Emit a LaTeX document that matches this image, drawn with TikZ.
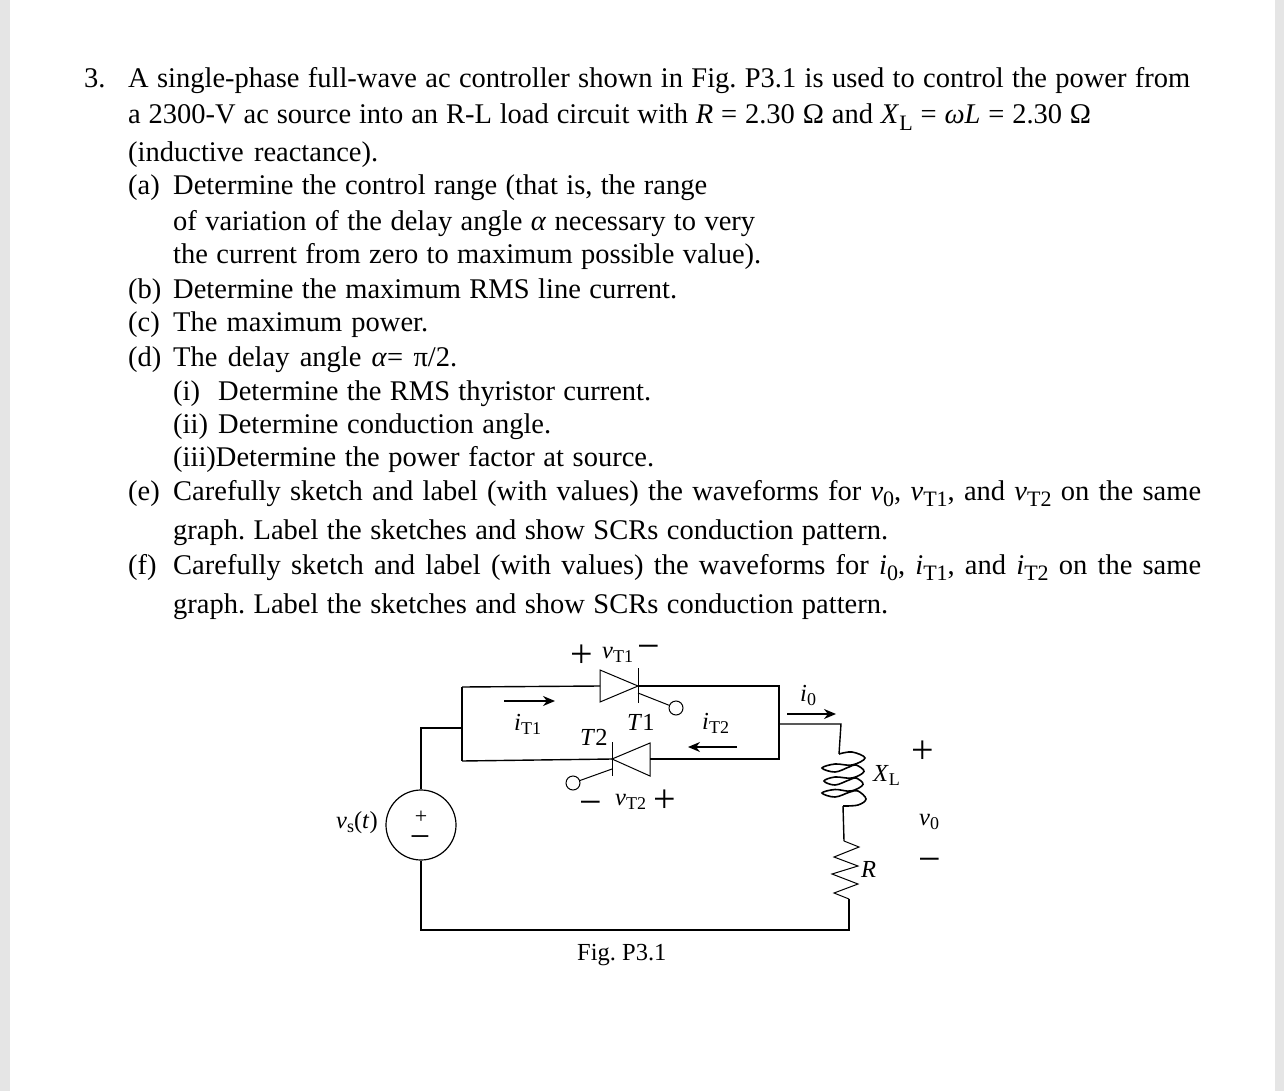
\documentclass[tikz,border=0pt]{standalone}
\usepackage{fontspec}
\setmainfont{Liberation Serif}
\usetikzlibrary{arrows.meta}
\definecolor{edgegray}{rgb}{0.9,0.9,0.9}
\frenchspacing
\newcommand{\sbm}[1]{\raisebox{-.22em}{\fontsize{22}{22}\selectfont #1}}
\newcommand{\sbf}[1]{\raisebox{-.2em}{\fontsize{18}{18}\selectfont #1}}
\newcommand{\fitline}[2]{\makebox[#1pt][s]{#2}}
\tikzset{
  txt/.style={anchor=base west,inner sep=0pt,font=\fontsize{28.5}{30}\selectfont},
  lab/.style={anchor=base west,inner sep=0pt,font=\fontsize{24.5}{26}\selectfont},
  sym/.style={inner sep=0pt,font=\fontsize{40}{40}\selectfont},
  wire/.style={line width=1.4pt},
  thin wire/.style={line width=1pt},
  flow/.style={->,>={Stealth[length=12pt,width=10pt]},line width=1.4pt},
  gatepin/.style={circle,draw,line width=1pt,minimum size=14pt,inner sep=0pt}
}
\begin{document}
\begin{tikzpicture}[x=1pt,y=-1pt]
  \useasboundingbox (0,0) rectangle (1284,1091);
  \fill[edgegray] (0,0) rectangle (10,1091);
  \fill[edgegray] (1275,0) rectangle (1284,1091);

  % problem text
  \node[txt] (num) at (84,88) {3.};
  \node[txt] (l1) at (128,88) {\fitline{1062}{A single-phase full-wave ac controller shown in Fig. P3.1 is used to control the power from}};
  \node[txt] (l2) at (128,124) {\fitline{963}{a 2300-V ac source into an R-L load circuit with \textit{R} = 2.30 Ω and \textit{X}\sbm{L} = \textit{ω}\textit{L} = 2.30 Ω}};
  \node[txt] (l3) at (128,162) {\fitline{250}{(inductive reactance).}};
  \node[txt] (pa) at (128,195) {(a)};
  \node[txt] (a1) at (173,195) {\fitline{534}{Determine the control range (that is, the range}};
  \node[txt] (a2) at (173,231) {\fitline{582}{of variation of the delay angle \textit{α} necessary to very}};
  \node[txt] (a3) at (173,264) {\fitline{588}{the current from zero to maximum possible value).}};
  \node[txt] (pb) at (128,298) {(b)};
  \node[txt] (b1) at (173,298) {\fitline{504}{Determine the maximum RMS line current.}};
  \node[txt] (pc) at (128,331) {(c)};
  \node[txt] (c1) at (173,331) {\fitline{255}{The maximum power.}};
  \node[txt] (pd) at (128,366) {(d)};
  \node[txt] (d1) at (173,366) {\fitline{284}{The delay angle \textit{α}= π/2.}};
  \node[txt] (pi) at (173,400) {(i)};
  \node[txt] (d2) at (218,400) {\fitline{433}{Determine the RMS thyristor current.}};
  \node[txt] (pii) at (173,433) {(ii)};
  \node[txt] (d3) at (218,433) {\fitline{333}{Determine conduction angle.}};
  \node[txt] (d4) at (173,466) {\fitline{481}{(iii)Determine the power factor at source.}};
  \node[txt] (pe) at (128,500) {(e)};
  \node[txt] (e1) at (173,500) {\fitline{1028}{Carefully sketch and label (with values) the waveforms for \textit{v}\sbm{0}, \textit{v}\sbm{T1}, and \textit{v}\sbm{T2} on the same}};
  \node[txt] (e2) at (173,539) {\fitline{715}{graph. Label the sketches and show SCRs conduction pattern.}};
  \node[txt] (pf) at (128,574) {(f)};
  \node[txt] (f1) at (173,574) {\fitline{1028}{Carefully sketch and label (with values) the waveforms for \textit{i}\sbm{0}, \textit{i}\sbm{T1}, and \textit{i}\sbm{T2} on the same}};
  \node[txt] (f2) at (173,613) {\fitline{715}{graph. Label the sketches and show SCRs conduction pattern.}};

  % circuit points
  \coordinate (topl) at (462,687);
  \coordinate (topr) at (779,686);
  \coordinate (botl) at (462,761);
  \coordinate (botr) at (779,759);
  \coordinate (midl) at (462,728);
  \coordinate (midr) at (779,724);
  \coordinate (t1a) at (600,686);
  \coordinate (t1k) at (638,686);
  \coordinate (t2k) at (612,759);
  \coordinate (t2a) at (650,759);
  \coordinate (corner) at (421,728);
  \coordinate (cornerb) at (421,930);
  \coordinate (coilin) at (841,724);
  \coordinate (coiltop) at (839,754);
  \coordinate (coilend) at (843,806);
  \coordinate (restop) at (844,841);
  \coordinate (resend) at (849,899);
  \coordinate (loadb) at (849,930);
  \coordinate (it1s) at (504,701);
  \coordinate (it1e) at (555,701);
  \coordinate (it2s) at (737,747);
  \coordinate (it2e) at (688,747);
  \coordinate (ios) at (787,714);
  \coordinate (ioe) at (836,714);

  \node[circle,draw,line width=1.2pt,minimum size=70pt,inner sep=0pt] (src) at (421,825) {};
  \node[inner sep=0pt,font=\fontsize{22}{22}\selectfont] (srcp) at (421,817) {+};
  \node[inner sep=0pt,text height=3pt,text depth=0pt,font=\fontsize{36}{36}\selectfont] (srcm) at (420,846.5) {−};
  \node[gatepin] (g1) at (676,708) {};
  \node[gatepin] (g2) at (573,783) {};

  % wires
  \draw[wire] (midl) -- (corner) -- (src.north);
  \draw[wire] (src.south) -- (cornerb) -- (loadb) -- (resend);
  \draw[wire] (topl) -- (botl);
  \draw[wire] (topl) -- (t1a);
  \draw[wire] (t1k) -- (topr) -- (botr) -- (t2a);
  \draw[wire] (botl) -- (t2k);
  \draw[wire] (midr) -- (coilin) -- (coiltop);
  \draw[wire] (coilend) -- (restop);

  % thyristors
  \draw[thin wire] (t1a) -- (600,670) -- (t1k) -- (600,702) -- cycle;
  \draw[thin wire] (638,668) -- (638,703);
  \draw[thin wire] (638,693) -- (g1);
  \draw[thin wire] (t2a) -- (650,743) -- (t2k) -- (650,776) -- cycle;
  \draw[thin wire] (612,742) -- (612,776);
  \draw[thin wire] (612,769) -- (g2);

  % coil and resistor
  \draw[line width=1.6pt] plot[smooth,tension=0.6] coordinates {
    (coiltop) (852,752) (865,758) (852,765) (835,764) (822,768) (835,772) (849,767)
    (856,765) (864,771.5) (852,778) (835,777) (824,781) (835,785) (849,780)
    (856,778) (863,784.5) (851,791) (835,789.5) (822,793) (835,797) (850,792)
    (858,791) (866,799) (858,805) (coilend)};
  \draw[thin wire] (restop) -- (859,847) -- (834,857) -- (858,866) -- (832,874)
    -- (858,884) -- (834,893) -- (resend);

  % current arrows
  \draw[flow] (it1s) -- (it1e);
  \draw[flow] (it2s) -- (it2e);
  \draw[flow] (ios) -- (ioe);

  % labels
  \node[sym] (vt1p) at (582,656) {+};
  \node[lab] (vt1) at (602,658) {\textit{v}\sbf{T1}};
  \node[sym] (vt1m) at (649,652) {−};
  \node[sym] (vt2m) at (591,808) {−};
  \node[lab] (vt2) at (615,805) {\textit{v}\sbf{T2}};
  \node[sym] (vt2p) at (665,801) {+};
  \node[lab] (it1) at (514,730) {\textit{i}\sbf{T1}};
  \node[lab] (it2) at (702,729) {\textit{i}\sbf{T2}};
  \node[lab] (io) at (800,701) {\textit{i}\sbf{0}};
  \node[lab] (t1) at (627,730) {\textit{T}1};
  \node[lab] (t2) at (580,745) {\textit{T}2};
  \node[lab] (vs) at (336,828) {\textit{v}\sbf{s}(\textit{t})};
  \node[lab] (xl) at (873,781) {\textit{X}\sbf{L}};
  \node[lab] (r) at (861,877) {\textit{R}};
  \node[sym] (vop) at (923,752) {+};
  \node[lab] (vo) at (919,825) {\textit{v}\sbf{0}};
  \node[sym] (vom) at (930,865) {−};
  \node[lab] (fig) at (577,960) {Fig. P3.1};
\end{tikzpicture}
\end{document}
